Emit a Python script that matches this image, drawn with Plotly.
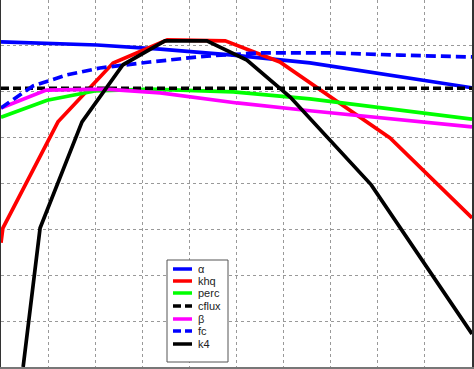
import plotly.graph_objects as go

# ---- data (x: normalised parameter axis 0..10, y: response in grid units) ----
names = ["α", "khq", "perc", "cflux", "β", "fc", "k4"]

alpha_x = [0, 1.10, 2.04, 3.38, 4.93, 6.56, 7.98, 10]
alpha_y = [7.07, 7.04, 7.00, 6.91, 6.78, 6.61, 6.39, 6.07]

khq_x = [0, 0.04, 1.21, 2.38, 3.53, 4.76, 5.92, 8.26, 10]
khq_y = [2.70, 3.02, 5.33, 6.61, 7.11, 7.09, 6.63, 4.98, 3.24]

perc_x = [0, 0.98, 1.99, 3.16, 4.93, 6.56, 10]
perc_y = [5.43, 5.80, 6.00, 6.04, 5.98, 5.83, 5.39]

cflux_x = [0, 1, 2, 3, 4, 5, 6, 7, 8, 9, 10]
cflux_y = [6.06] * 11

beta_x = [0, 0.96, 2.21, 3.38, 5.01, 6.56, 10]
beta_y = [5.63, 6.02, 6.04, 5.96, 5.74, 5.57, 5.22]

fc_x = [0, 0.68, 1.40, 2.10, 3.16, 4.37, 5.50, 6.99, 8.47, 10]
fc_y = [5.63, 6.11, 6.35, 6.50, 6.63, 6.76, 6.83, 6.83, 6.78, 6.74]

k4_x = [0.47, 0.83, 1.72, 2.59, 3.48, 4.37, 5.22, 6.14, 7.86, 10]
k4_y = [0.0, 3.02, 5.33, 6.57, 7.09, 7.09, 6.67, 5.87, 3.96, 0.72]

xs = [alpha_x, khq_x, perc_x, cflux_x, beta_x, fc_x, k4_x]
ys = [alpha_y, khq_y, perc_y, cflux_y, beta_y, fc_y, k4_y]
colors = ["#0000FF", "#FF0000", "#00FF00", "#000000", "#FF00FF", "#0000FF", "#000000"]
dashes = ["solid", "solid", "solid", "8px,4px", "solid", "10px,5px", "solid"]

W, H = 474, 369
L, R, T, B = 1, 2, 0, 2
pw, ph = W - L - R, H - T - B

fig = go.Figure()
for n, x, y, c, d in zip(names, xs, ys, colors, dashes):
    fig.add_trace(go.Scatter(x=x, y=y, mode="lines", name=n,
                             line=dict(color=c, width=3.7, dash=d),
                             showlegend=False))

# manual compact legend (paper coords derived from pixel layout)
def px2paper(px, py):
    return (px - L) / pw, (H - B - py) / ph

x0, y0 = px2paper(167, 260)
x1, y1 = px2paper(228, 362)
fig.add_shape(type="rect", xref="paper", yref="paper", x0=x0, y0=y1, x1=x1, y1=y0,
              line=dict(color="#555555", width=1), fillcolor="white", layer="above")
item_py = [269, 281, 293, 306, 319, 331, 344]
for n, c, d, py in zip(names, colors, dashes, item_py):
    lx0, ly = px2paper(173, py)
    lx1, _ = px2paper(192, py)
    tx, _ = px2paper(196, py)
    fig.add_shape(type="line", xref="paper", yref="paper", x0=lx0, x1=lx1, y0=ly, y1=ly,
                  line=dict(color=c, width=3.5,
                            dash=("8px,4px" if d != "solid" else "solid")),
                  layer="above")
    fig.add_annotation(x=tx, y=ly, xref="paper", yref="paper", text=n, showarrow=False,
                       xanchor="left", yanchor="middle",
                       font=dict(family="Liberation Sans, Arial", size=11, color="#222222"))

fig.update_layout(
    width=W, height=H,
    margin=dict(l=L, r=R, t=T, b=B, pad=0),
    paper_bgcolor="white", plot_bgcolor="white",
    xaxis=dict(range=[0, 10], tickvals=list(range(0, 11)), showticklabels=False,
               ticks="", showgrid=True, gridcolor="#999999", griddash="dot", gridwidth=1,
               zeroline=False, showline=True, linecolor="#777777", linewidth=2, mirror=False),
    yaxis=dict(range=[0, ph / 46.0], tickvals=list(range(0, 9)), showticklabels=False,
               ticks="", showgrid=True, gridcolor="#999999", griddash="dot", gridwidth=1,
               zeroline=False, showline=True, linecolor="#333333", linewidth=3, mirror=True),
)

fig.write_html("out.html", config={"displayModeBar": False},
               post_script="document.body.style.margin='0';document.body.style.overflow='hidden';")
